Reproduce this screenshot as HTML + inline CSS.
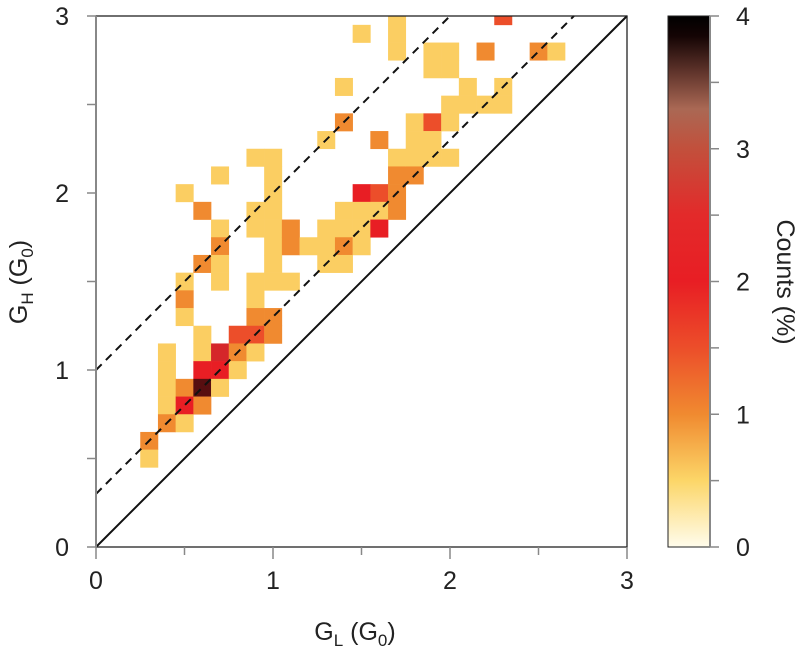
<!DOCTYPE html>
<html><head><meta charset="utf-8">
<style>
html,body{margin:0;padding:0;background:#fff;}
svg{display:block;font-family:"Liberation Sans","DejaVu Sans",sans-serif;}
</style></head>
<body>
<svg id="chart" width="802" height="657" viewBox="0 0 802 657" xmlns="http://www.w3.org/2000/svg">
  <g id="cells"></g>
  <g id="lines"></g>
  <g id="axes"></g>
  <g id="cbar"></g>
</svg>
<script>
// Heatmap data: bin centres (G_L, G_H) and counts (%)
const cellGL = [0.3,0.3, 0.4,0.4,0.4,0.4,0.4, 0.5,0.5,0.5,0.5,0.5,0.5,0.5, 0.6,0.6,0.6,0.6,0.6,0.6,0.6, 0.7,0.7,0.7,0.7,0.7,0.7,0.7,0.7, 0.8,0.8,0.8, 0.9,0.9,0.9,0.9,0.9,0.9,0.9,0.9, 1.0,1.0,1.0,1.0,1.0,1.0,1.0,1.0,1.0,1.0, 1.1,1.1,1.1, 1.2, 1.3,1.3,1.3,1.3, 1.4,1.4,1.4,1.4,1.4,1.4, 1.5,1.5,1.5,1.5,1.5, 1.6,1.6,1.6,1.6, 1.7,1.7,1.7,1.7,1.7,1.7,1.7, 1.8,1.8,1.8,1.8, 1.9,1.9,1.9,1.9,1.9, 2.0,2.0,2.0,2.0,2.0, 2.1,2.1, 2.2,2.2, 2.3,2.3,2.3, 2.5, 2.6];
const cellGH = [0.6,0.5, 1.1,1.0,0.9,0.8,0.7, 2.0,1.5,1.4,1.3,0.9,0.8,0.7, 1.9,1.6,1.2,1.1,1.0,0.9,0.8, 2.1,1.8,1.7,1.6,1.5,1.1,1.0,0.9, 1.2,1.1,1.0, 2.2,1.9,1.8,1.5,1.4,1.3,1.2,1.1, 2.2,2.1,2.0,1.9,1.8,1.7,1.6,1.5,1.3,1.2, 1.8,1.7,1.5, 1.7, 2.3,1.8,1.7,1.6, 2.6,2.4,1.9,1.8,1.7,1.6, 2.9,2.0,1.9,1.8,1.7, 2.3,2.0,1.9,1.8, 3.0,2.9,2.8,2.2,2.1,2.0,1.9, 2.4,2.3,2.2,2.1, 2.8,2.7,2.4,2.3,2.2, 2.8,2.7,2.5,2.4,2.2, 2.6,2.5, 2.8,2.5, 3.0,2.6,2.5, 2.8, 2.8];
const cellCount = [1.0,0.55, 0.55,0.55,0.55,0.55,1.0, 0.55,0.55,1.0,0.55,1.0,2.0,0.55, 1.0,1.0,0.55,0.55,2.0,3.7,1.0, 0.55,0.55,1.0,0.55,0.55,2.6,2.0,0.55, 1.5,1.0,0.55, 0.55,0.55,0.55,0.55,0.55,1.0,1.5,0.55, 0.55,0.55,0.55,0.55,0.55,0.55,0.55,0.55,1.0,1.0, 1.0,1.0,0.55, 0.55, 0.55,0.55,0.55,0.55, 0.55,1.0,0.55,0.55,1.0,0.55, 0.55,2.0,0.55,0.55,0.55, 1.0,1.5,0.55,2.0, 0.55,0.55,0.55,0.55,1.0,1.0,1.0, 0.55,0.55,0.55,1.0, 0.55,0.55,1.5,0.55,0.55, 0.55,0.55,0.55,0.55,0.55, 0.55,0.55, 1.0,0.55, 1.5,0.55,0.55, 1.0, 0.55];
const binWidth = 0.1;
const xTicks = [0,1,2,3];
const yTicks = [0,1,2,3];
const cbarTicks = [0,1,2,3,4];
const refOffsets = [0, 0.3, 1];

const NS = "http://www.w3.org/2000/svg";
const X0=96, X1=627, Y0=547, Y1=16;
const xs = v => X0 + (v/3)*(X1-X0);
const ys = v => Y0 - (v/3)*(Y0-Y1);
const CB = {x:668, w:42, y0:547, y1:16};
const cbY = v => CB.y0 - (v/4)*(CB.y0-CB.y1);

const stops = [[0,[255,252,236]],[0.5,[252,214,104]],[1,[240,138,48]],[1.5,[236,78,42]],[2,[232,30,36]],[2.5,[225,38,40]],[2.7,[200,38,44]],[3,[192,82,60]],[3.3,[170,104,84]],[3.5,[110,40,34]],[3.7,[88,14,16]],[3.85,[20,4,4]],[4,[0,0,0]]];
const cbarStops = [[0,'#fffcec'],[0.5,'#fcd668'],[1,'#f08a30'],[1.5,'#ec4e2a'],[2,'#e81e24'],[2.5,'#e32a2a'],[3,'#c2503c'],[3.3,'#aa6854'],[3.6,'#5a3028'],[3.85,'#140404'],[4,'#000000']];
function cmap(v){
  for(let k=1;k<stops.length;k++){
    if(v<=stops[k][0]){
      const a=stops[k-1],b=stops[k],t=(v-a[0])/(b[0]-a[0]);
      const c=a[1].map((q,i)=>Math.round(q+(b[1][i]-q)*t));
      return `rgb(${c[0]},${c[1]},${c[2]})`;
    }
  }
  return "rgb(0,0,0)";
}
function mk(tag,attrs,parent){
  const e=document.createElementNS(NS,tag);
  for(const k in attrs) e.setAttribute(k,attrs[k]);
  parent.appendChild(e); return e;
}
const gCells=document.getElementById('cells');
const clip=mk('clipPath',{id:'pc'},document.getElementById('chart'));
mk('rect',{x:X0,y:Y1,width:X1-X0,height:Y0-Y1},clip);
gCells.setAttribute('clip-path','url(#pc)');
for(let k=0;k<cellGL.length;k++){
  const x=xs(cellGL[k]-binWidth/2), y=ys(cellGH[k]+binWidth/2);
  const r=mk('rect',{x:x,y:y,width:xs(cellGL[k]+binWidth/2)-x+0.3,height:ys(cellGH[k]-binWidth/2)-y+0.3,fill:cmap(cellCount[k])},gCells);
  
  
}
// reference lines
const gL=document.getElementById('lines');
refOffsets.forEach(o=>{
  const xEnd=3-o;
  const l=mk('line',{x1:xs(0),y1:ys(o),x2:xs(xEnd),y2:ys(3),stroke:'#111','stroke-width':2},gL);
  if(o>0) l.setAttribute('stroke-dasharray','8,6');
  
  
});
// axes
const gA=document.getElementById('axes');
const frame=mk('rect',{x:X0,y:Y1,width:X1-X0,height:Y0-Y1,fill:'none',stroke:'#222','stroke-width':1.3},gA);


mk('line',{x1:X0,y1:Y1,x2:X0,y2:Y0,stroke:'#888','stroke-width':2},gA);
for(let v=0;v<=3.001;v+=0.5){
  const major=Math.abs(v-Math.round(v))<1e-6;
  const t1=mk('line',{x1:xs(v),y1:Y0,x2:xs(v),y2:Y0+(major?12:8),stroke:'#888','stroke-width':1.5},gA);
  
  
  const t2=mk('line',{x1:X0-9,y1:ys(v),x2:X0,y2:ys(v),stroke:'#888','stroke-width':1.5},gA);
  
  
}
xTicks.forEach(v=>{
  const t=mk('text',{x:xs(v),y:Y0+42,'text-anchor':'middle','font-size':25,fill:'#222'},gA);
  t.textContent=v;
  
  
});
yTicks.forEach(v=>{
  const t=mk('text',{x:X0-27,y:ys(v)+9,'text-anchor':'end','font-size':25,fill:'#222'},gA);
  t.textContent=v;
  
  
});
// colorbar
const gC=document.getElementById('cbar');
const grad=mk('linearGradient',{id:'cg',x1:0,y1:1,x2:0,y2:0},document.getElementById('chart'));
cbarStops.forEach(s=>mk('stop',{offset:(s[0]/4),'stop-color':s[1]},grad));
const cr=mk('rect',{x:CB.x,y:CB.y1,width:CB.w,height:CB.y0-CB.y1,fill:'url(#cg)',stroke:'#222','stroke-width':1},gC);


mk('line',{x1:CB.x+CB.w,y1:CB.y1,x2:CB.x+CB.w,y2:CB.y0,stroke:'#888','stroke-width':2},gC);
for(let v=0;v<=4.001;v+=0.5){
  const t=mk('line',{x1:CB.x+CB.w,y1:cbY(v),x2:CB.x+CB.w+9,y2:cbY(v),stroke:'#888','stroke-width':1.5},gC);
  
  
}
cbarTicks.forEach(v=>{
  const t=mk('text',{x:CB.x+CB.w+26,y:cbY(v)+9,'font-size':25,fill:'#222'},gC);
  t.textContent=v;
  
  
});
</script>
<svg style="position:absolute;left:0;top:0" width="802" height="657">
  <text x="355" y="640" text-anchor="middle" font-size="25" fill="#222" font-family="Liberation Sans, sans-serif">G<tspan font-size="17" dy="6">L</tspan><tspan dy="-6"> (G</tspan><tspan font-size="17" dy="6">0</tspan><tspan dy="-6">)</tspan></text>
  <text transform="translate(27,282) rotate(-90)" text-anchor="middle" font-size="25" fill="#222" font-family="Liberation Sans, sans-serif">G<tspan font-size="17" dy="6">H</tspan><tspan dy="-6"> (G</tspan><tspan font-size="17" dy="6">0</tspan><tspan dy="-6">)</tspan></text>
  <text transform="translate(777,282) rotate(90)" text-anchor="middle" font-size="25" fill="#222" font-family="Liberation Sans, sans-serif">Counts (%)</text>
</svg>
</body></html>
